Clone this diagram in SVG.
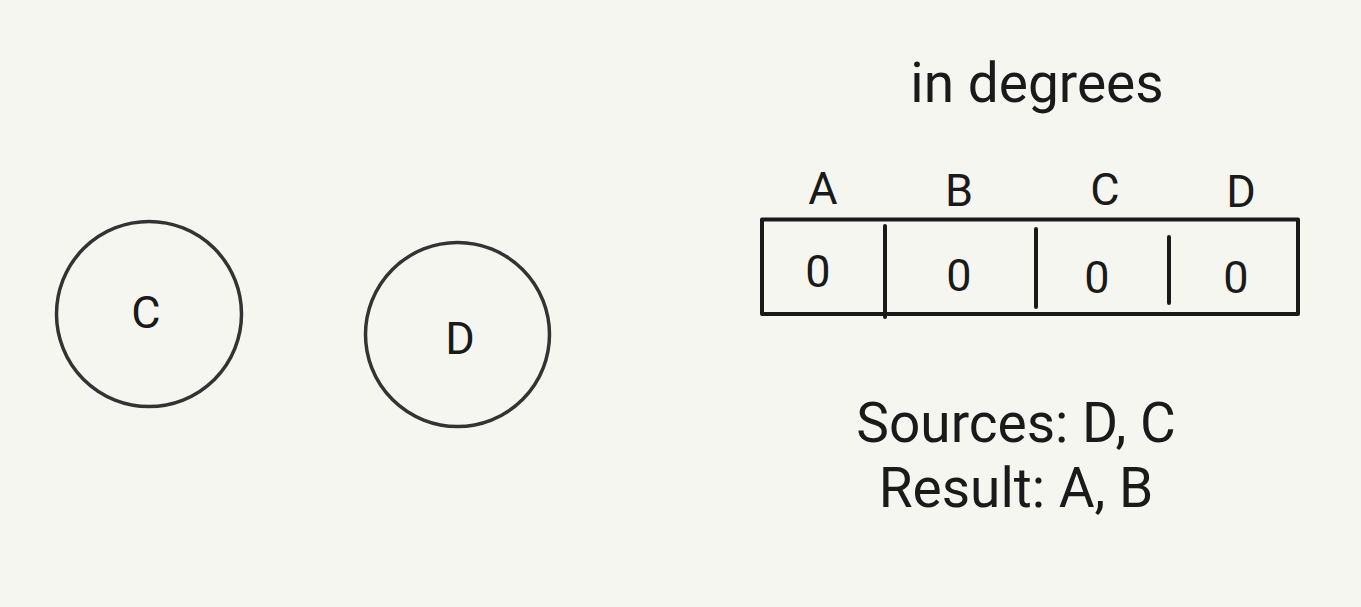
<svg xmlns="http://www.w3.org/2000/svg" width="1361" height="607" viewBox="0 0 1361 607">
<style>
text{font-family:Roboto,"Liberation Sans",sans-serif;fill:#1a1a1a;text-anchor:middle}
.big{font-size:55px}
.mid{font-size:45px}
.node{fill:none;stroke:#333;stroke-width:3.5}
.tbl{fill:none;stroke:#1a1a1a;stroke-width:4;stroke-linecap:round;stroke-linejoin:round}
</style>
<rect x="0" y="0" width="1361" height="607" fill="#f6f6f1"/>
<g id="node-C">
<circle class="node" cx="149" cy="314" r="92.5"/>
<text class="mid" x="146" y="328" font-size="43">C</text>
</g>
<g id="node-D">
<circle class="node" cx="457.5" cy="334.5" r="92"/>
<text class="mid" x="460" y="354" font-size="43">D</text>
</g>
<g id="title">
<text class="big" x="1037" y="102">in degrees</text>
</g>
<g id="table">
<rect class="tbl" x="762" y="219.5" width="536" height="94.5"/>
<line class="tbl" x1="885" y1="226" x2="885" y2="317"/>
<line class="tbl" x1="1036" y1="229" x2="1036" y2="307"/>
<line class="tbl" x1="1169" y1="237" x2="1169" y2="303"/>
<text class="mid" x="823" y="204">A</text>
<text class="mid" x="959" y="205.5">B</text>
<text class="mid" x="1105" y="205">C</text>
<text class="mid" x="1241" y="207">D</text>
<text class="mid" x="818" y="287">0</text>
<text class="mid" x="959" y="291">0</text>
<text class="mid" x="1097" y="293">0</text>
<text class="mid" x="1236" y="293">0</text>
</g>
<g id="summary">
<text class="big" x="1016" y="442">Sources: D, C</text>
<text class="big" x="1016" y="507">Result: A, B</text>
</g>
<g id="connectors"></g>
</svg>
